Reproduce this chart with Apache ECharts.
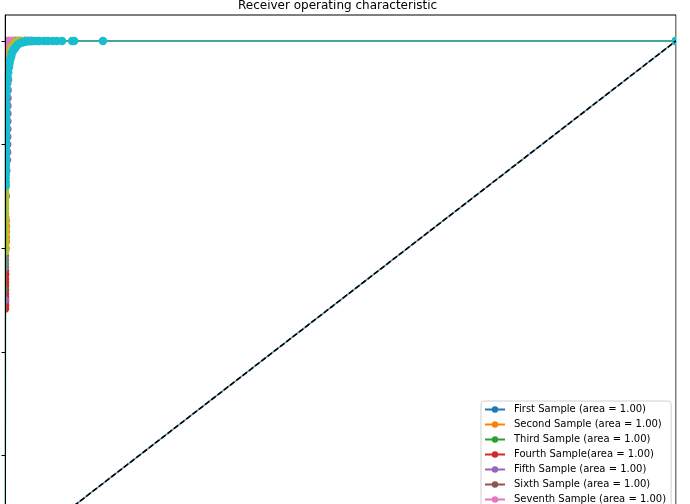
<!DOCTYPE html>
<html>
<head>
<meta charset="utf-8">
<script src="https://cdn.jsdelivr.net/npm/echarts@6/dist/echarts.min.js"></script>
<style>
  html, body { margin: 0; padding: 0; background: #fff; }
  #chart { width: 690px; height: 504px; }
</style>
</head>
<body>
<div id="chart"></div>
<script>
// ---- data ----
const sampleNames = [
  'First Sample (area = 1.00)',
  'Second Sample (area = 1.00)',
  'Third Sample (area = 1.00)',
  'Fourth Sample(area = 1.00)',
  'Fifth Sample (area = 1.00)',
  'Sixth Sample (area = 1.00)',
  'Seventh Sample (area = 1.00)',
  'Eighth Sample (area = 1.00)',
  'Ninth Sample (area = 1.00)',
  'Tenth Sample (area = 1.00)'
];
const yTicks = [0.0, 0.2, 0.4, 0.6, 0.8, 1.0];
const chanceFpr = [0, 1];
const chanceTpr = [0, 1];

const fprFirst = [0, 0, 0, 0, 0, 0.0005, 0.001, 0.0025, 0.005, 0.01, 0.016, 1];
const tprFirst = [0, 0.62, 0.75, 0.86, 0.94, 0.975, 0.99, 0.998, 1, 1, 1, 1];

const fprSecond = [0, 0, 0, 0.0008, 0.0014, 0.0013, 0.0014, 0.0015, 0.0012, 0.001, 0.001, 0.0015, 0.003, 0.006, 0.01, 0.015, 0.03, 1];
const tprSecond = [0, 0.5, 0.55, 0.6, 0.613, 0.622, 0.632, 0.643, 0.653, 0.72, 0.82, 0.9, 0.95, 0.975, 0.99, 1, 1, 1];

const fprThird = [0, 0, 0, 0, 0.001, 0.003, 0.007, 0.015, 0.03, 1];
const tprThird = [0, 0.55, 0.7, 0.85, 0.93, 0.97, 0.99, 1, 1, 1];

const fprFourth = [0, 0, 0, 0, 0, 0, 0, 0, 0, 0, 0, 0, 0, 0.0005, 0.001, 0.002, 0.004, 0.007, 0.012, 0.02, 0.035, 1];
const tprFourth = [0, 0.483, 0.490, 0.497, 0.505, 0.512, 0.519, 0.527, 0.534, 0.541, 0.549, 0.556, 0.7, 0.8, 0.88, 0.93, 0.965, 0.985, 0.995, 1, 1, 1];

const fprFifth = [0, 0, 0, 0.001, 0.002, 0.003, 0.0032, 0.0033, 0.0034, 0.0035, 0.0035, 0.0036, 0.0036, 0.0038, 0.004, 0.0045, 0.006, 0.009, 0.014, 0.02, 0.03, 0.05, 1];
const tprFifth = [0, 0.5, 0.6, 0.7, 0.75, 0.77, 0.785, 0.8, 0.815, 0.83, 0.845, 0.86, 0.875, 0.89, 0.905, 0.925, 0.95, 0.97, 0.985, 0.995, 1, 1, 1];

const fprSixth = [0, 0, 0, 0, 0.001, 0.003, 0.006, 0.012, 0.022, 0.04, 1];
const tprSixth = [0, 0.52, 0.66, 0.8, 0.9, 0.955, 0.98, 0.995, 1, 1, 1];

const fprSeventh = [0, 0, 0, 0, 0, 0, 0.0005, 0.001, 0.002, 0.0035, 0.006, 0.012, 0.02, 1];
const tprSeventh = [0, 0.6, 0.7, 0.8, 0.88, 0.93, 0.96, 0.975, 0.987, 0.995, 1, 1, 1, 1];

const fprEighth = [0, 0, 0, 0, 0, 0, 0, 0.0005, 0.001, 0.0015, 0.002, 0.003, 0.005, 0.008, 0.012, 0.018, 0.025, 0.04, 1];
const tprEighth = [0, 0.563, 0.570, 0.577, 0.585, 0.62, 0.66, 0.7, 0.76, 0.82, 0.88, 0.93, 0.962, 0.98, 0.992, 0.998, 1, 1, 1];

const fprNinth = [0, 0, 0, 0, 0, 0, 0, 0, 0, 0, 0, 0, 0, 0, 0, 0, 0, 0, 0, 0, 0, 0, 0, 0.0008, 0.0015, 0.0025, 0.0035, 0.005, 0.0065, 0.0085, 0.011, 0.014, 0.018, 0.023, 0.029, 0.035, 1];
const tprNinth = [0, 0.594, 0.601, 0.608, 0.616, 0.623, 0.631, 0.638, 0.646, 0.653, 0.661, 0.668, 0.676, 0.683, 0.690, 0.698, 0.705, 0.713, 0.74, 0.78, 0.82, 0.86, 0.87, 0.88, 0.90, 0.925, 0.945, 0.96, 0.972, 0.982, 0.99, 0.996, 0.999, 1, 1, 1, 1];

const fprTenth = [0, 0.0008, 0.001, 0.0009, 0.0011, 0.001, 0.0012, 0.0011, 0.0013, 0.0012, 0.0014, 0.0013, 0.0015, 0.0014, 0.0015, 0.0014, 0.0016, 0.0015, 0.0016, 0.0017, 0.0016, 0.0017, 0.0018, 0.0022, 0.0028, 0.0034, 0.0041, 0.0049, 0.0058, 0.0067, 0.0078, 0.0089, 0.0103, 0.0119, 0.0137, 0.0156, 0.0178, 0.0201, 0.0226, 0.0253, 0.0283, 0.0313, 0.0345, 0.038, 0.045, 0.051, 0.058, 0.064, 0.071, 0.077, 0.085, 0.100, 0.103, 0.146, 1];
const tprTenth = [0, 0.720, 0.727, 0.735, 0.742, 0.750, 0.757, 0.765, 0.772, 0.780, 0.787, 0.795, 0.802, 0.810, 0.817, 0.825, 0.832, 0.840, 0.848, 0.855, 0.863, 0.870, 0.879, 0.894, 0.906, 0.918, 0.929, 0.939, 0.949, 0.957, 0.964, 0.970, 0.976, 0.981, 0.985, 0.988, 0.991, 0.994, 0.996, 0.997, 0.998, 0.999, 1, 1, 1, 1, 1, 1, 1, 1, 1, 1, 1, 1, 1];

const fprList = [fprFirst, fprSecond, fprThird, fprFourth, fprFifth, fprSixth, fprSeventh, fprEighth, fprNinth, fprTenth];
const tprList = [tprFirst, tprSecond, tprThird, tprFourth, tprFifth, tprSixth, tprSeventh, tprEighth, tprNinth, tprTenth];

// ---- styles ----
const palette = ['#1f77b4', '#ff7f0e', '#2ca02c', '#d62728', '#9467bd', '#8c564b', '#e377c2', '#7f7f7f', '#bcbd22', '#17becf'];
const lineColors = palette.slice();
lineColors[9] = '#33aaa6';
const FONT = 'DejaVu Sans';

const zip = (xs, ys) => xs.map((x, i) => [x, ys[i]]);

const series = sampleNames.map((name, i) => ({
  name: name,
  type: 'line',
  data: zip(fprList[i], tprList[i]),
  symbol: 'circle',
  symbolSize: 8.5,
  showSymbol: true,
  showAllSymbol: true,
  clip: false,
  itemStyle: { color: palette[i], borderWidth: 0 },
  lineStyle: { color: lineColors[i], width: 1.8 },
  emphasis: { disabled: true },
  z: 2 + i * 0.01
}));

series.push({
  name: 'chance-solid',
  type: 'line',
  data: zip(chanceFpr, chanceTpr),
  symbol: 'none',
  clip: false,
  lineStyle: { color: '#6399b4', width: 1.6 },
  emphasis: { disabled: true },
  z: 3
});
series.push({
  name: 'chance-dashed',
  type: 'line',
  data: zip(chanceFpr, chanceTpr),
  symbol: 'none',
  clip: false,
  lineStyle: { color: '#000', width: 1.6, type: [5.5, 2.4] },
  emphasis: { disabled: true },
  z: 3.1
});

const GRID = { left: 5, top: 15, right: 14, height: 570 };

const chart = echarts.init(document.getElementById('chart'), null, { renderer: 'canvas' });
chart.setOption({
  animation: false,
  backgroundColor: '#fff',
  title: {
    text: 'Receiver operating characteristic',
    left: 238,
    top: 0,
    padding: 0,
    textStyle: { fontFamily: FONT, fontSize: 12, fontWeight: 'normal', color: '#000' }
  },
  grid: {
    left: GRID.left, top: GRID.top, right: GRID.right, height: GRID.height,
    outerBoundsMode: 'none',
    containLabel: false,
    show: true, borderColor: '#000', borderWidth: 1, backgroundColor: 'transparent'
  },
  xAxis: {
    type: 'value', min: 0, max: 1,
    axisLine: { show: false }, axisTick: { show: false }, axisLabel: { show: false },
    splitLine: { show: false }
  },
  yAxis: {
    type: 'value', min: -0.05, max: 1.05,
    z: 60,
    axisLine: { show: true, lineStyle: { color: '#000', width: 1 } },
    axisTick: { show: true, length: 3.5, lineStyle: { color: '#000', width: 1 }, customValues: yTicks },
    axisLabel: { show: false },
    splitLine: { show: false }
  },
  legend: {
    data: sampleNames,
    orient: 'vertical',
    left: 481,
    top: 401,
    height: 200,
    padding: [3, 5, 3, 3],
    itemGap: 4,
    itemWidth: 20,
    itemHeight: 8,
    backgroundColor: 'rgba(255,255,255,0.8)',
    borderColor: '#d0d0d0',
    borderWidth: 1,
    borderRadius: 3,
    selectedMode: false,
    textStyle: { fontFamily: FONT, fontSize: 10, color: '#000', lineHeight: 11, padding: [0, 0, 0, 4] }
  },
  graphic: [
    { type: 'rect', z: 50, shape: { x: 0, y: 0, width: GRID.left - 0.5, height: 504 }, style: { fill: '#fff' }, silent: true },
    { type: 'rect', z: 50, shape: { x: 690 - GRID.right + 0.5, y: 0, width: GRID.right, height: 504 }, style: { fill: '#fff' }, silent: true }
  ],
  series: series
});
</script>
</body>
</html>
